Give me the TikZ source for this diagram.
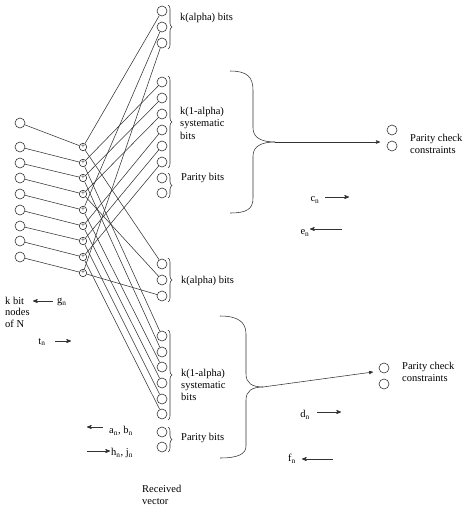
\documentclass[tikz,border=0pt]{standalone}
\usepackage{fontspec}
\setmainfont{Liberation Serif}
\usetikzlibrary{arrows, decorations.pathreplacing}

\begin{document}
\begin{tikzpicture}[>= stealth', x=1pt, y=-1pt, font=\fontsize{10.5}{12.5}\selectfont]
            \tikzstyle{bit}=[circle, draw=black!80, line width=0.6pt, minimum size=10pt, inner sep=0pt]
            \tikzstyle{xor}=[circle, draw=black!80, line width=0.6pt, minimum size=7.5pt, inner sep=0pt, font=\fontsize{7}{7}\selectfont]
            \tikzstyle{txt}=[anchor=west, align=left, inner sep=0pt]
            \tikzstyle{wire}=[draw=black!80, line width=0.55pt]
            \tikzstyle{curly}=[draw=black!80, line width=0.55pt, decorate, decoration={brace, amplitude=4pt}]

            \useasboundingbox (0,0) rectangle (474,518);

            % k bit nodes
            \node[bit] (X1) at (20,123) {};
            \node[bit] (X2) at (20,147) {};
            \node[bit] (X3) at (20,163) {};
            \node[bit] (X4) at (20,178) {};
            \node[bit] (X5) at (20,194) {};
            \node[bit] (X6) at (20,210) {};
            \node[bit] (X7) at (20,226) {};
            \node[bit] (X8) at (20,241) {};
            \node[bit] (X9) at (20,257) {};

            % sums
            \node[xor] (S1) at (83,147) {+};
            \node[xor] (S2) at (83,163) {+};
            \node[xor] (S3) at (83,178) {+};
            \node[xor] (S4) at (83,194) {+};
            \node[xor] (S5) at (83,210) {+};
            \node[xor] (S6) at (83,226) {+};
            \node[xor] (S7) at (83,241) {+};
            \node[xor] (S8) at (83,257) {+};
            \node[xor] (S9) at (83,273) {+};

            % received vector, upper half
            \node[bit] (U1) at (162,11) {};
            \node[bit] (U2) at (162,27) {};
            \node[bit] (U3) at (162,43) {};
            \node[bit] (U4) at (162,82) {};
            \node[bit] (U5) at (162,98) {};
            \node[bit] (U6) at (162,114) {};
            \node[bit] (U7) at (162,130) {};
            \node[bit] (U8) at (162,146) {};
            \node[bit] (U9) at (162,162) {};
            \node[bit] (UP1) at (162,178) {};
            \node[bit] (UP2) at (162,193) {};

            % received vector, lower half
            \node[bit] (L1) at (162,264) {};
            \node[bit] (L2) at (162,280) {};
            \node[bit] (L3) at (162,296) {};
            \node[bit] (L4) at (162,336) {};
            \node[bit] (L5) at (162,352) {};
            \node[bit] (L6) at (162,367) {};
            \node[bit] (L7) at (162,383) {};
            \node[bit] (L8) at (162,399) {};
            \node[bit] (L9) at (162,414) {};
            \node[bit] (LP1) at (162,432) {};
            \node[bit] (LP2) at (162,447) {};

            % parity check constraints
            \node[bit] (C1) at (392,130) {};
            \node[bit] (C2) at (392,146) {};
            \node[bit] (D1) at (384,368) {};
            \node[bit] (D2) at (384,384) {};

            \path (X1) edge[wire] (S1);
            \path (X2) edge[wire] (S2);
            \path (X3) edge[wire] (S3);
            \path (X4) edge[wire] (S4);
            \path (X5) edge[wire] (S5);
            \path (X6) edge[wire] (S6);
            \path (X7) edge[wire] (S7);
            \path (X8) edge[wire] (S8);
            \path (X9) edge[wire] (S9);

            \path (S1) edge[wire] (U1);
            \path (S2) edge[wire] (U4);
            \path (S3) edge[wire] (U5);
            \path (S4) edge[wire] (U6);
            \path (S5) edge[wire] (U2);
            \path (S6) edge[wire] (U7);
            \path (S7) edge[wire] (U8);
            \path (S8) edge[wire] (U9);
            \path (S9) edge[wire] (U3);

            \path (S1) edge[wire] (L1);
            \path (S4) edge[wire] (L2);
            \path (S9) edge[wire] (L3);
            \path (S2) edge[wire] (L4);
            \path (S3) edge[wire] (L5);
            \path (S5) edge[wire] (L6);
            \path (S6) edge[wire] (L7);
            \path (S7) edge[wire] (L8);
            \path (S8) edge[wire] (L9);

            % small braces and their labels
            \draw[curly] (168,5) -- (168,49);
            \draw[curly] (168,76) -- (168,168);
            \draw[curly] (168,173) -- (168,198);
            \draw[curly] (168,258) -- (168,302);
            \draw[curly] (168,330) -- (168,420);
            \draw[curly] (168,427) -- (168,452);

            \node[txt] (ka1) at (180,18) {k(alpha) bits};
            \node[txt, anchor=north west] (ks1) at (180,107) {k(1-alpha)\\systematic\\bits};
            \node[txt] (pb1) at (181,178) {Parity bits};
            \node[txt] (ka2) at (181,281) {k(alpha) bits};
            \node[txt, anchor=north west, font=\fontsize{10.5}{12}\selectfont] (ks2) at (181,369) {k(1-alpha)\\systematic\\bits};
            \node[txt] (pb2) at (181,438) {Parity bits};

            % big braces
            \coordinate (T1) at (275,142);
            \coordinate (T2) at (263,387);
            \coordinate (A1) at (380,142);
            \coordinate (A2) at (373,372);
            \draw[wire] (230,71) .. controls (247,71) and (253,77) .. (253,90) -- (253,128) .. controls (253,138) and (262,142) .. (T1);
            \draw[wire] (T1) .. controls (262,142) and (253,146) .. (253,156) -- (253,198) .. controls (253,209) and (247,213) .. (230,213);
            \draw[wire] (220,316) .. controls (238,316) and (246,322) .. (246,334) -- (246,374) .. controls (246,383) and (252,387) .. (T2);
            \draw[wire] (T2) .. controls (252,387) and (246,391) .. (246,400) -- (246,446) .. controls (246,454) and (238,458) .. (220,458);
            \draw[wire, ->] (T1) -- (A1);
            \draw[wire, ->] (T2) -- (A2);

            \node[txt, anchor=north west] (pc1) at (410,134) {Parity check\\constraints};
            \node[txt, anchor=north west] (pc2) at (402,362) {Parity check\\constraints};

            % messages
            \node (cn) at (315,200) {c\textsubscript{n}};
            \node (en) at (305,233) {e\textsubscript{n}};
            \node (dn) at (305,415) {d\textsubscript{n}};
            \node (fn) at (292,459) {f\textsubscript{n}};
            \node[txt] (gn) at (57,302) {g\textsubscript{n}};
            \node (tn) at (42,342) {t\textsubscript{n}};
            \node[txt] (an) at (109,431) {a\textsubscript{n}, b\textsubscript{n}};
            \node[txt] (hn) at (111,453) {h\textsubscript{n}, j\textsubscript{n}};

            \coordinate (cn1) at (325,197);
            \coordinate (cn2) at (349,197);
            \coordinate (en1) at (342,229);
            \coordinate (en2) at (310,229);
            \coordinate (dn1) at (317,412);
            \coordinate (dn2) at (341,412);
            \coordinate (fn1) at (333,459);
            \coordinate (fn2) at (302,459);
            \coordinate (gn1) at (53,301);
            \coordinate (gn2) at (33,301);
            \coordinate (tn1) at (55,341);
            \coordinate (tn2) at (71,341);
            \coordinate (an1) at (103,427);
            \coordinate (an2) at (87,427);
            \coordinate (hn1) at (87,451);
            \coordinate (hn2) at (110,451);

            \draw[wire, line width=0.7pt, ->] (cn1) -- (cn2);
            \draw[wire, line width=0.7pt, ->] (en1) -- (en2);
            \draw[wire, line width=0.7pt, ->] (dn1) -- (dn2);
            \draw[wire, line width=0.7pt, ->] (fn1) -- (fn2);
            \draw[wire, line width=0.7pt, ->] (gn1) -- (gn2);
            \draw[wire, line width=0.7pt, ->] (tn1) -- (tn2);
            \draw[wire, line width=0.7pt, ->] (an1) -- (an2);
            \draw[wire, line width=0.7pt, ->] (hn1) -- (hn2);

            \node[txt, anchor=north west, font=\fontsize{10.5}{11.5}\selectfont] (kb) at (5,297) {k bit\\nodes\\of N};
            \node[txt, anchor=north west] (rv) at (142,485) {Received\\vector};

          \end{tikzpicture}
\end{document}
